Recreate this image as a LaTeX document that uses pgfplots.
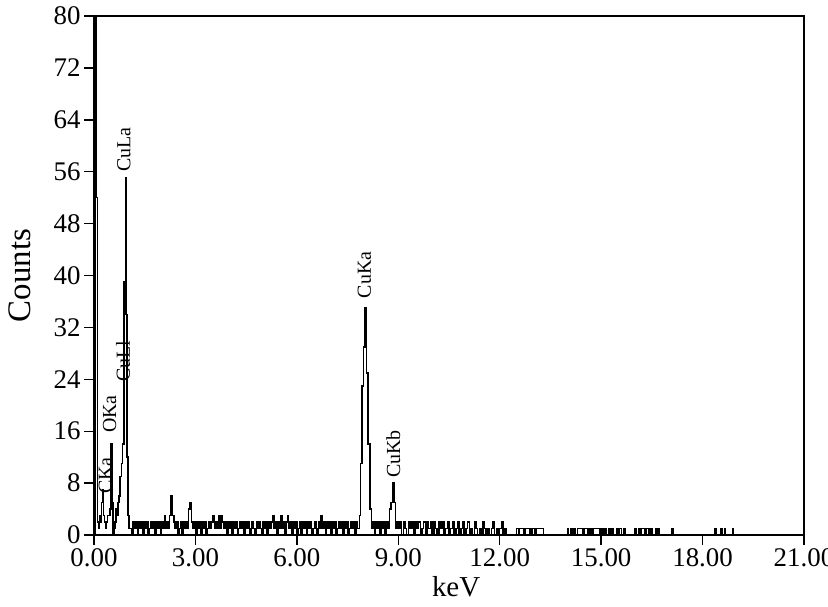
\documentclass[border=0pt]{standalone}
\usepackage{pgfplots}
\pgfplotsset{compat=1.18}
\usepackage{fontspec}
\setmainfont{Liberation Serif}

\begin{document}
\begin{tikzpicture}
\begin{axis}[name=main, scale only axis, width=710bp, height=519bp,
  xmin=0, xmax=21, ymin=0, ymax=80,
  xtick={0,3,...,21}, ytick={0,8,...,80},
  xtick pos=bottom, ytick pos=left, tick align=outside,
  major tick length=10bp,
  axis line style={line width=1.6bp}, tick style={line width=1.4bp, black},
  xticklabel={\pgfmathprintnumber[fixed,fixed zerofill,precision=2]{\tick}},
  ticklabel style={font=\fontsize{27}{30}\selectfont},
  /pgf/number format/assume math mode=true,
  xlabel={keV}, ylabel={Counts},
  xlabel style={font=\fontsize{29}{32}\selectfont, at={(axis description cs:0.51,-0.1)}, anchor=center},
  ylabel style={font=\fontsize{33}{36}\selectfont, at={(axis description cs:-0.104,0.5)}, anchor=center},
  every node/.append style={black}]
\addplot[const plot, black, line width=1.5bp] coordinates {
(0.00,0)(0.03,90)(0.07,52)(0.10,2)(0.13,1)(0.16,3)(0.19,2)(0.22,5)(0.25,7)(0.28,3)(0.31,2)
(0.34,1)(0.37,2)(0.40,3)(0.44,3)(0.47,4)(0.50,14)(0.53,5)(0.56,0)(0.59,1)(0.62,2)(0.65,4)
(0.68,3)(0.71,5)(0.74,6)(0.77,9)(0.81,11)(0.84,14)(0.88,39)(0.93,55)(0.95,34)(0.98,12)
(1.01,3)(1.04,1)
(1.08,1)(1.12,0)(1.16,2)(1.20,1)(1.24,2)(1.28,0)(1.32,2)(1.36,1)(1.40,2)(1.44,0)
(1.48,2)(1.52,1)(1.56,2)(1.60,0)(1.64,1)(1.68,2)(1.72,1)(1.76,2)(1.80,0)(1.84,2)
(1.88,1)(1.92,2)(1.96,0)(2.00,2)(2.04,1)(2.08,3)(2.12,1)(2.16,2)(2.20,1)(2.24,3)
(2.28,6)(2.32,3)(2.36,2)(2.40,1)(2.44,2)(2.48,0)(2.52,1)(2.56,2)(2.60,0)(2.64,2)
(2.68,1)(2.72,2)(2.76,1)(2.80,4)(2.84,5)(2.88,2)(2.92,1)(2.96,2)(3.00,0)(3.04,2)
(3.08,1)(3.12,2)(3.16,0)(3.20,2)(3.24,1)(3.28,2)(3.32,0)(3.36,1)(3.40,2)(3.44,1)
(3.48,2)(3.52,3)(3.56,1)(3.60,2)(3.64,1)(3.68,3)(3.72,1)(3.76,3)(3.80,2)(3.84,1)
(3.88,2)(3.92,0)(3.96,2)(4.00,1)(4.04,2)(4.08,0)(4.12,2)(4.16,1)(4.20,2)(4.24,0)
(4.28,1)(4.32,2)(4.36,1)(4.40,2)(4.44,0)(4.48,2)(4.52,1)(4.56,2)(4.60,0)(4.64,1)
(4.68,2)(4.72,1)(4.76,0)(4.80,2)(4.84,1)(4.88,2)(4.92,1)(4.96,0)(5.00,2)(5.04,1)
(5.08,2)(5.12,0)(5.16,2)(5.20,1)(5.24,2)(5.28,3)(5.32,1)(5.36,2)(5.40,0)(5.44,2)
(5.48,1)(5.52,3)(5.56,1)(5.60,2)(5.64,0)(5.68,2)(5.72,3)(5.76,1)(5.80,2)(5.84,0)
(5.88,2)(5.92,1)(5.96,2)(6.00,0)(6.04,1)(6.08,2)(6.12,0)(6.16,2)(6.20,1)(6.24,2)
(6.28,0)(6.32,2)(6.36,1)(6.40,2)(6.44,0)(6.48,1)(6.52,2)(6.56,1)(6.60,0)(6.64,2)
(6.68,1)(6.72,3)(6.76,1)(6.80,2)(6.84,0)(6.88,2)(6.92,1)(6.96,2)(7.00,0)(7.04,2)
(7.08,1)(7.12,2)(7.16,0)(7.20,1)(7.24,2)(7.28,1)(7.32,2)(7.36,0)(7.40,2)(7.44,1)
(7.48,2)(7.52,0)(7.56,1)(7.60,2)(7.64,1)(7.68,2)(7.72,0)(7.76,2)
(7.80,1)(7.85,3)(7.88,11)(7.92,23)(7.97,29)(8.02,35)(8.06,25)(8.11,14)(8.16,4)(8.21,1)
(8.25,2)(8.29,0)(8.33,2)(8.37,1)(8.41,2)(8.45,0)(8.49,2)(8.53,1)(8.57,2)(8.61,0)(8.65,2)
(8.70,1)(8.74,4)(8.78,5)(8.83,8)(8.87,5)(8.92,1)(8.96,2)
(9.00,1)(9.05,2)(9.10,0)(9.15,2)(9.20,1)(9.25,0)(9.30,2)(9.35,1)(9.40,2)(9.45,0)
(9.50,2)(9.55,1)(9.60,2)(9.65,0)(9.70,1)(9.75,2)(9.80,0)(9.85,2)(9.90,1)(9.95,2)
(10.00,0)(10.05,2)(10.10,1)(10.15,0)(10.20,2)(10.25,1)(10.30,2)(10.35,0)(10.40,1)(10.45,2)
(10.50,0)(10.55,1)(10.60,2)(10.65,0)(10.70,1)(10.75,2)(10.80,0)(10.85,1)(10.90,2)(10.95,0)
(11.00,1)(11.05,2)(11.10,0)(11.15,1)(11.20,0)(11.25,2)(11.30,1)(11.35,0)(11.40,1)(11.45,0)
(11.50,2)(11.55,1)(11.60,0)(11.65,1)(11.70,0)(11.75,1)(11.80,2)(11.85,0)(11.90,1)(11.95,0)
(12.00,1)(12.05,2)(12.10,0)(12.15,1)(12.20,0)
(12.50,1)(12.55,0)(12.58,1)(12.66,1)(12.72,0)(12.76,1)(12.90,0)(12.95,1)(13.05,0)(13.08,1)
(13.30,0)
(14.00,1)(14.04,0)(14.10,1)(14.14,0)(14.20,1)(14.24,0)(14.30,1)(14.45,0)(14.50,1)(14.60,0)
(14.64,1)(14.70,0)(14.76,1)(14.95,0)(15.00,1)(15.05,0)(15.10,1)(15.15,0)(15.22,1)(15.26,0)
(15.32,1)(15.36,0)(15.45,1)(15.50,0)(15.55,1)(15.60,0)(15.68,1)(15.72,0)(16.00,1)(16.04,0)
(16.12,1)(16.16,0)(16.20,1)(16.28,0)(16.32,1)(16.40,0)(16.44,1)(16.50,0)(16.62,1)(16.66,0)
(16.68,1)(16.72,0)(17.10,1)(17.14,0)(18.35,1)(18.39,0)(18.55,1)(18.59,0)(18.65,1)(18.67,0)
(18.88,1)(18.92,0)(21.00,0)};
\begin{scope}[every node/.style={font=\fontsize{20}{22}\selectfont, rotate=90, anchor=west, inner sep=0pt}]
\node at (axis cs:0.34,6.3) {CKa};
\node at (axis cs:0.46,15.7) {OKa};
\node at (axis cs:0.86,23.6) {CuLl};
\node at (axis cs:0.885,56) {CuLa};
\node at (axis cs:8.0,36.5) {CuKa};
\node at (axis cs:8.85,8.8) {CuKb};
\end{scope}
\end{axis}
\pgfresetboundingbox
\path[use as bounding box] (main.south west) ++(-94bp,-72bp) rectangle ++(828bp,607bp);
\end{tikzpicture}
\end{document}
